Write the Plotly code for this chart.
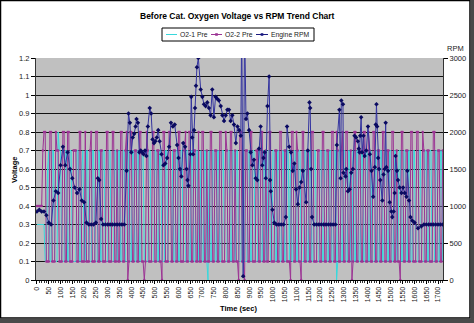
import plotly.graph_objects as go

# ---------------- data ----------------
# Oxygen sensor voltages, sampled every 5 s (values in tenths of a volt)
o2_1_pre_tenths = [
    3,3,3,3,3,3,3,1,1,6,  7,1,1,7,7,1,1,1,8,7,  7,1,1,1,7,7,1,1,7,7,
    1,1,1,1,7,7,1,1,6,7,  1,1,7,7,1,1,1,7,7,1,  1,1,7,7,1,1,7,7,1,1,
    1,7,7,1,1,1,7,7,1,7,  7,1,1,7,7,1,1,1,7,1,  1,7,7,1,1,7,7,1,1,7,
    7,1,1,1,1,7,7,1,1,1,  7,7,1,1,7,7,1,1,1,7,  7,1,1,1,1,7,1,1,7,7,
    1,1,7,7,1,1,1,7,7,1,  1,7,7,1,1,7,7,1,1,7,  1,1,7,7,1,0,7,1,1,7,
    7,1,1,7,7,1,1,7,7,1,  1,1,7,7,1,1,7,7,1,7,  7,1,1,1,7,7,1,1,1,7,
    7,1,1,7,7,1,1,1,7,7,  1,1,7,7,1,1,7,7,1,1,  7,7,1,1,7,7,1,1,7,7,
    1,1,7,7,1,7,1,1,7,7,  1,1,7,7,1,1,1,7,7,1,  1,7,7,1,1,7,7,1,1,1,
    7,7,1,1,7,7,1,1,7,7,  1,1,7,7,0,1,7,7,1,1,  7,7,1,1,7,7,1,1,7,1,
    1,7,7,1,1,7,7,1,1,7,  7,1,1,7,1,1,1,7,7,1,  1,7,7,1,1,7,7,1,1,7,
    7,1,1,7,7,1,1,7,7,1,  1,7,7,1,1,7,7,1,1,7,  7,1,1,1,7,7,1,1,1,7,
    7,1,1,7,7,1,1,1,7,7,  1,1,7,7,1,
]
o2_2_pre_tenths = [
    4,4,4,4,4,7,8,8,1,1,  1,8,8,1,1,1,8,7,7,1,  1,1,8,8,1,1,8,8,1,1,
    1,7,7,7,1,1,8,8,1,1,  1,8,1,1,1,7,8,1,1,1,  8,8,1,1,7,7,1,1,1,8,
    8,1,1,1,8,8,1,1,7,1,  1,8,8,1,1,7,8,0,1,8,  8,1,1,7,7,1,1,8,8,1,
    1,0,1,8,7,1,1,1,8,8,  1,1,7,7,1,1,0,8,8,1,  1,1,8,8,1,1,7,7,1,1,
    8,8,1,1,1,7,8,1,1,8,  8,1,1,7,7,1,1,8,1,1,  8,8,1,1,7,1,1,8,8,1,
    1,7,7,1,1,8,8,1,1,1,  8,7,1,1,8,8,1,1,7,1,  1,0,8,8,1,1,0,7,7,1,
    1,8,8,1,1,1,7,7,1,1,  8,8,1,1,7,1,1,8,8,1,  1,1,7,7,1,1,8,8,1,1,
    7,7,1,1,1,0,8,8,1,1,  8,7,1,1,0,8,8,1,1,7,  7,1,1,8,8,1,1,1,7,7,
    1,1,8,8,1,1,7,7,1,1,  8,8,1,1,8,7,1,1,7,8,  1,1,8,8,1,1,7,0,1,8,
    8,1,1,7,7,1,1,8,8,1,  1,8,7,1,1,8,8,1,1,7,  7,1,1,8,8,1,1,7,7,1,
    1,8,8,1,1,7,1,1,0,8,  8,1,1,7,7,1,1,8,8,1,  1,1,8,8,1,1,1,8,7,1,
    1,7,7,1,1,1,8,8,1,1,  7,7,1,1,7,
]
o2_time = list(range(0, 5 * len(o2_1_pre_tenths), 5))

# Engine RPM readings (time in sec, rpm)
rpm_time = [
    0, 10, 20, 30, 40, 50, 60, 70, 80, 90,
    100, 110, 120, 130, 140, 150, 160, 170, 180, 190,
    200, 210, 220, 230, 240, 250, 258, 264, 272, 280,
    290, 300, 310, 320, 330, 340, 350, 360, 370, 380,
    388, 394, 400, 406, 412, 418, 422, 428, 434, 440,
    446, 452, 458, 464, 470, 478, 484, 490, 496, 502,
    508, 514, 520, 528, 536, 544, 552, 560, 568, 576,
    584, 594, 600, 606, 612, 620, 628, 634, 638, 642,
    650, 654, 658, 662, 666, 670, 674, 678, 684, 694,
    701, 708, 715, 722, 729, 736, 743, 750, 757, 764,
    771, 779, 786, 793, 800, 807, 814, 821, 828, 835,
    843, 850, 857, 864, 868, 874, 880, 886, 892, 899,
    906, 913, 920, 927, 934, 941, 948, 955, 960, 965,
    970, 977, 984, 988, 991, 998, 1006, 1015, 1025, 1035,
    1045, 1055, 1060, 1069, 1077, 1084, 1091, 1098, 1106, 1113,
    1120, 1127, 1141, 1148, 1155, 1158, 1162, 1166, 1175, 1185,
    1195, 1205, 1215, 1225, 1235, 1245, 1255, 1265, 1271, 1282,
    1287, 1290, 1297, 1299, 1308, 1311, 1318, 1325, 1332, 1339,
    1346, 1353, 1360, 1364, 1367, 1370, 1374, 1378, 1384, 1389,
    1396, 1403, 1411, 1418, 1425, 1432, 1436, 1439, 1442, 1446,
    1450, 1455, 1464, 1469, 1474, 1478, 1481, 1488, 1495, 1502,
    1506, 1512, 1516, 1520, 1526, 1530, 1537, 1545, 1552, 1559,
    1566, 1570, 1577, 1583, 1591, 1601, 1615, 1629, 1640, 1650,
    1660, 1670, 1680, 1690, 1700, 1710, 1720,
]
rpm_value = [
    925, 950, 925, 925, 875, 775, 750, 1075, 1200, 1175,
    1550, 1800, 1550, 1725, 1500, 1375, 1250, 1175, 1225, 1075,
    1050, 775, 750, 750, 750, 775, 1375, 1350, 825, 750,
    750, 750, 750, 750, 750, 750, 750, 750, 750, 1475,
    2250, 2125, 1725, 1925, 1975, 2075, 2175, 2125, 1725, 1750,
    1725, 1700, 1750, 1675, 2075, 2325, 2250, 1900, 1850, 1875,
    1925, 2025, 1875, 1700, 1550, 1575, 1650, 1800, 2125, 2075,
    2100, 1825, 1650, 1500, 1400, 1850, 1800, 1500, 1350, 1275,
    1700, 2475, 1925, 1700, 2025, 2325, 2625, 2875, 3000, 2575,
    2475, 2375, 2350, 2400, 2325, 2225, 2575, 2200, 2475, 2450,
    2425, 2350, 2225, 2150, 2225, 2300, 2300, 2150, 2225, 2100,
    1850, 2075, 2025, 1950, 3500, 50, 3500, 2175, 2250, 2025,
    1725, 1550, 1625, 1375, 1350, 1775, 2075, 1550, 1650, 1725,
    1375, 2350, 2750, 1350, 1200, 950, 775, 750, 750, 750,
    750, 850, 2075, 1800, 1725, 1475, 1575, 1225, 1025, 1250,
    1325, 1475, 1050, 1750, 2400, 2325, 1500, 850, 750, 750,
    750, 750, 750, 750, 750, 750, 750, 750, 1825, 2300,
    1375, 2425, 2375, 1450, 1400, 1500, 1200, 1225, 1450, 1500,
    1950, 1925, 1875, 1775, 1725, 1950, 2200, 1725, 1950, 1675,
    1750, 2075, 1700, 1475, 1125, 1525, 2100, 2375, 2075, 1650,
    1500, 1350, 1075, 1425, 1500, 2125, 1525, 1475, 1050, 925,
    850, 925, 1175, 1675, 1475, 1350, 1250, 1175, 1250, 1175,
    1125, 1475, 1075, 850, 800, 775, 700, 725, 750, 750,
    750, 750, 750, 750, 750, 750, 750,
]

series_names = ["O2-1 Pre", "O2-2 Pre", "Engine RPM"]
series_colors = ["#38D8DC", "#9C3494", "#1A1A80"]

o2_1_pre = [v / 10 for v in o2_1_pre_tenths]
o2_2_pre = [v / 10 for v in o2_2_pre_tenths]

# ---------------- geometry ----------------
W, H = 474, 323
L, R, T, B = 36, 31, 58, 43
PW, PH = W - L - R, H - T - B


def px(x):
    return (x - L) / PW


def py(y):
    return (H - B - y) / PH


FONT = "Arial, Liberation Sans, sans-serif"

fig = go.Figure()
fig.add_trace(go.Scatter(
    x=o2_time, y=o2_1_pre, mode="lines", name=series_names[0],
    line=dict(color=series_colors[0], width=1), showlegend=False))
fig.add_trace(go.Scatter(
    x=o2_time, y=o2_2_pre, mode="lines+markers", name=series_names[1],
    line=dict(color=series_colors[1], width=1),
    marker=dict(size=2.5, color=series_colors[1]), showlegend=False))
fig.add_trace(go.Scatter(
    x=rpm_time, y=rpm_value, mode="lines+markers", name=series_names[2],
    yaxis="y2", line=dict(color="#3434A0", width=1),
    marker=dict(size=3.5, symbol="diamond", color="#0A0A60"),
    showlegend=False))

tickfont = dict(family=FONT, size=7.5, color="#222")

fig.update_layout(
    width=W, height=H,
    margin=dict(l=L, r=R, t=T, b=B, pad=0, autoexpand=False),
    paper_bgcolor="white",
    plot_bgcolor="#C0C0C0",
    showlegend=False,
    xaxis=dict(
        range=[-4, 1721], tick0=0, dtick=50, tickangle=-90,
        ticks="outside", ticklen=3, tickcolor="black", automargin=False,
        tickfont=dict(family=FONT, size=7, color="#222"),
        showline=True, linecolor="black", linewidth=1,
        showgrid=False, zeroline=False,
        minor=dict(ticks="outside", ticklen=2, dtick=10, tickcolor="#333", showgrid=False),
    ),
    yaxis=dict(
        range=[0, 1.2], dtick=0.1, ticks="outside", ticklen=4, automargin=False,
        tickcolor="black", tickfont=tickfont,
        showline=True, linecolor="#333", linewidth=1,
        showgrid=True, gridcolor="#111", gridwidth=1, zeroline=False,
    ),
    yaxis2=dict(
        range=[0, 3000], dtick=500, overlaying="y", side="right", automargin=False,
        ticks="outside", ticklen=4, tickcolor="black", tickfont=tickfont,
        showline=True, linecolor="#333", linewidth=1,
        showgrid=False, zeroline=False,
    ),
)

annotations = [
    dict(text="<b>Before Cat. Oxygen Voltage vs RPM Trend Chart</b>",
         x=px(237), y=py(16), font=dict(family=FONT, size=8.5, color="black")),
    dict(text="<b>Voltage</b>", x=px(14), y=py(170), textangle=-90,
         font=dict(family=FONT, size=7.5, color="black")),
    dict(text="<b>Time (sec)</b>", x=px(238), y=py(308),
         font=dict(family=FONT, size=7.5, color="black")),
    dict(text="RPM", x=px(455), y=py(48),
         font=dict(family=FONT, size=7.5, color="#222")),
]

# manual legend
leg_y = 34.5
legend_items = [(166, 177, 178), (211, 222, 223), (256, 268, 269)]
shapes = [
    dict(type="rect", xref="paper", yref="paper",
         x0=px(162), x1=px(314), y0=py(28), y1=py(41),
         line=dict(color="black", width=1), fillcolor="white", layer="above"),
]
for i, (x0, x1, tx) in enumerate(legend_items):
    shapes.append(dict(type="line", xref="paper", yref="paper",
                       x0=px(x0), x1=px(x1), y0=py(leg_y), y1=py(leg_y),
                       line=dict(color=series_colors[i], width=1)))
    if i > 0:
        cx = (x0 + x1) / 2
        shapes.append(dict(type="rect", xref="paper", yref="paper",
                           x0=px(cx - 1.3), x1=px(cx + 1.3),
                           y0=py(leg_y - 1.3), y1=py(leg_y + 1.3),
                           line=dict(width=0), fillcolor=series_colors[i]))
    annotations.append(dict(text=series_names[i], x=px(tx), y=py(leg_y),
                            xanchor="left",
                            font=dict(family=FONT, size=6.8, color="#222")))

# outer frame
shapes.append(dict(type="rect", xref="paper", yref="paper",
                   x0=px(0.5), x1=px(470), y0=py(0.5), y1=py(318),
                   line=dict(color="black", width=1.5), layer="above"))
shapes.append(dict(type="rect", xref="paper", yref="paper",
                   x0=px(0), x1=px(474), y0=py(318.5), y1=py(323),
                   line=dict(width=0), fillcolor="#4a4a4a", layer="above"))
shapes.append(dict(type="rect", xref="paper", yref="paper",
                   x0=px(470.5), x1=px(474), y0=py(0), y1=py(323),
                   line=dict(width=0), fillcolor="#4a4a4a", layer="above"))

for a in annotations:
    a.setdefault("xref", "paper")
    a.setdefault("yref", "paper")
    a.setdefault("showarrow", False)
    a.setdefault("xanchor", "center")
    a.setdefault("yanchor", "middle")
fig.update_layout(annotations=annotations, shapes=shapes)

fig.write_html("out.html")
